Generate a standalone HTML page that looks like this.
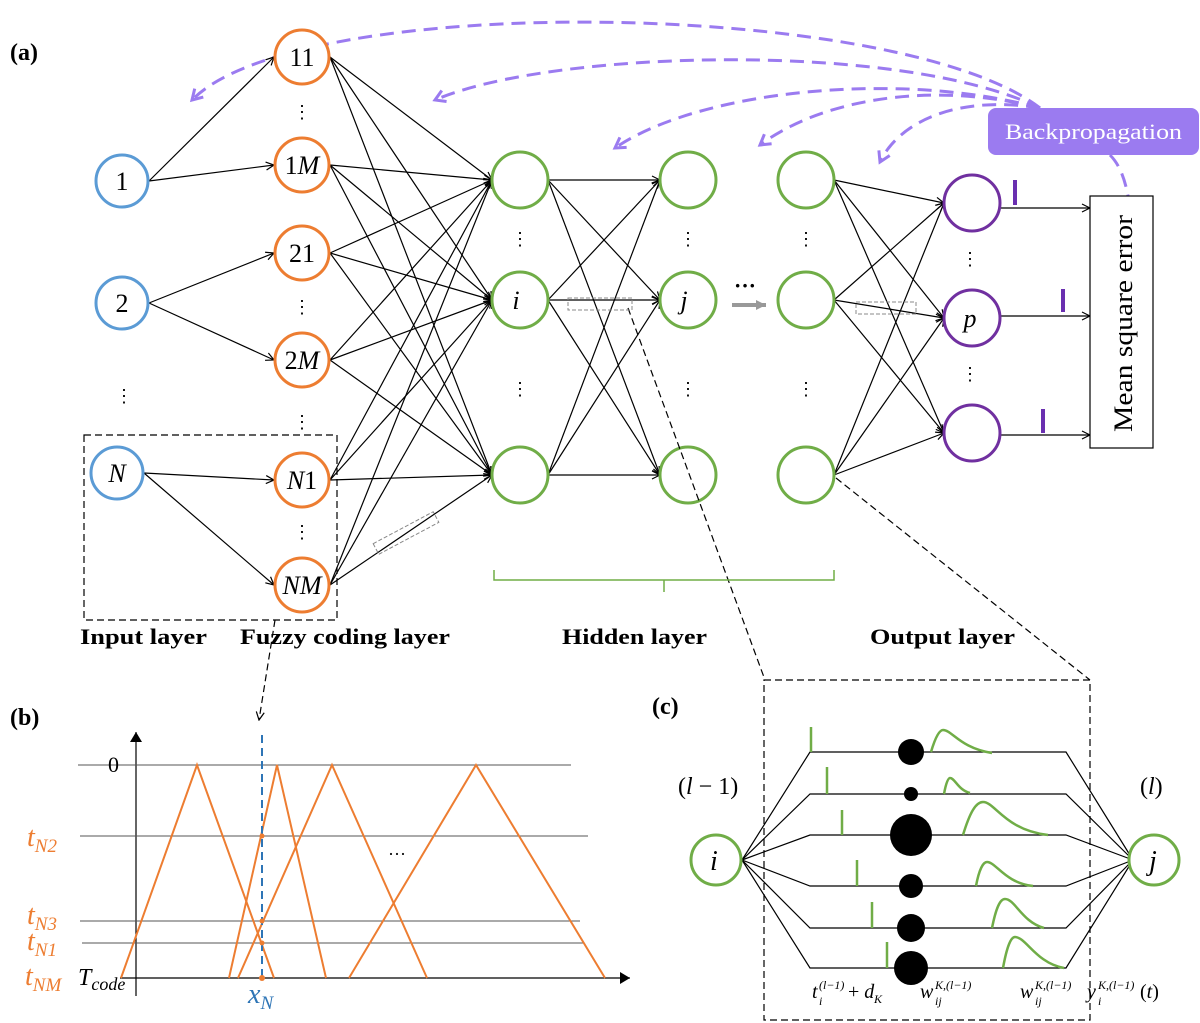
<!DOCTYPE html>
<html><head><meta charset="utf-8"><style>
html,body{margin:0;padding:0;background:#fff;}
svg{display:block;font-family:"Liberation Serif",serif;}
</style></head><body>
<svg width="1200" height="1023" viewBox="0 0 1200 1023" xmlns="http://www.w3.org/2000/svg">
<defs>
<marker id="a" markerWidth="10" markerHeight="10" refX="9" refY="5" orient="auto" markerUnits="userSpaceOnUse"><path d="M1,1 L9,5 L1,9" fill="none" stroke="#000" stroke-width="1.2"/></marker>
<marker id="p" markerWidth="16" markerHeight="16" refX="12" refY="8" orient="auto" markerUnits="userSpaceOnUse"><path d="M2,2 L12,8 L2,14" fill="none" stroke="#9b7bf0" stroke-width="3"/></marker>
<marker id="f" markerWidth="12" markerHeight="12" refX="10" refY="6" orient="auto" markerUnits="userSpaceOnUse"><path d="M0,0 L10,6 L0,12 Z" fill="#000"/></marker>
<marker id="g" markerWidth="12" markerHeight="12" refX="10" refY="6" orient="auto" markerUnits="userSpaceOnUse"><path d="M0,1 L10,6 L0,11 Z" fill="#999"/></marker>
</defs>

<g fill="none" stroke="#9b7bf0" stroke-width="3" stroke-dasharray="14,8">
<path d="M1040,108 C900,0 300,-10 192,100" marker-end="url(#p)"/>
<path d="M1040,108 C900,40 550,50 435,100" marker-end="url(#p)"/>
<path d="M1040,108 C900,70 700,90 615,148" marker-end="url(#p)"/>
<path d="M1040,108 C930,80 820,100 760,145" marker-end="url(#p)"/>
<path d="M1040,108 C960,95 900,120 880,162" marker-end="url(#p)"/>
<path d="M1110,155 C1120,165 1125,180 1128,196"/>
</g>
<rect x="988" y="108" width="211" height="47" rx="8" fill="#9b7bf0"/>
<text x="1005" y="139" font-size="22" fill="#fff" textLength="177" lengthAdjust="spacingAndGlyphs">Backpropagation</text>

<text x="10" y="60" font-size="24" font-weight="bold">(a)</text>

<g stroke="#000" stroke-width="1.2" marker-end="url(#a)">
<line x1="149" y1="181" x2="274" y2="57"/><line x1="149" y1="181" x2="274" y2="165"/>
<line x1="149" y1="303" x2="274" y2="253"/><line x1="149" y1="303" x2="274" y2="360"/>
<line x1="144" y1="473" x2="274" y2="480"/><line x1="144" y1="473" x2="274" y2="585"/>
<line x1="330" y1="57" x2="492" y2="180"/><line x1="330" y1="57" x2="492" y2="300"/><line x1="330" y1="57" x2="492" y2="475"/>
<line x1="330" y1="165" x2="492" y2="180"/><line x1="330" y1="165" x2="492" y2="300"/><line x1="330" y1="165" x2="492" y2="475"/>
<line x1="330" y1="253" x2="492" y2="180"/><line x1="330" y1="253" x2="492" y2="300"/><line x1="330" y1="253" x2="492" y2="475"/>
<line x1="330" y1="360" x2="492" y2="180"/><line x1="330" y1="360" x2="492" y2="300"/><line x1="330" y1="360" x2="492" y2="475"/>
<line x1="330" y1="480" x2="492" y2="180"/><line x1="330" y1="480" x2="492" y2="300"/><line x1="330" y1="480" x2="492" y2="475"/>
<line x1="330" y1="585" x2="492" y2="180"/><line x1="330" y1="585" x2="492" y2="300"/><line x1="330" y1="585" x2="492" y2="475"/>
<line x1="548" y1="180" x2="660" y2="180"/><line x1="548" y1="180" x2="660" y2="300"/><line x1="548" y1="180" x2="660" y2="475"/>
<line x1="548" y1="300" x2="660" y2="180"/><line x1="548" y1="300" x2="660" y2="300"/><line x1="548" y1="300" x2="660" y2="475"/>
<line x1="548" y1="475" x2="660" y2="180"/><line x1="548" y1="475" x2="660" y2="300"/><line x1="548" y1="475" x2="660" y2="475"/>
<line x1="834" y1="180" x2="944" y2="203"/><line x1="834" y1="180" x2="944" y2="318"/><line x1="834" y1="180" x2="944" y2="433"/>
<line x1="834" y1="300" x2="944" y2="203"/><line x1="834" y1="300" x2="944" y2="318"/><line x1="834" y1="300" x2="944" y2="433"/>
<line x1="834" y1="475" x2="944" y2="203"/><line x1="834" y1="475" x2="944" y2="318"/><line x1="834" y1="475" x2="944" y2="433"/>
<line x1="1000" y1="208" x2="1090" y2="208"/><line x1="1000" y1="316" x2="1090" y2="316"/><line x1="1000" y1="435" x2="1090" y2="435"/>
</g>
<line x1="732" y1="305" x2="766" y2="305" stroke="#999" stroke-width="4" marker-end="url(#g)"/>
<text x="745" y="293" font-size="22" font-weight="bold" text-anchor="middle">···</text>

<g stroke="#6a2fb0" stroke-width="4"><line x1="1015" y1="180" x2="1015" y2="205"/><line x1="1063" y1="289" x2="1063" y2="312"/><line x1="1043" y1="409" x2="1043" y2="433"/></g>

<g fill="#fff" stroke-width="3">
<g stroke="#5b9bd5"><circle cx="122" cy="181" r="26"/><circle cx="122" cy="303" r="26"/><circle cx="117" cy="473" r="26"/></g>
<g stroke="#ed7d31"><circle cx="302" cy="57" r="27"/><circle cx="302" cy="165" r="27"/><circle cx="302" cy="253" r="27"/><circle cx="302" cy="360" r="27"/><circle cx="302" cy="480" r="27"/><circle cx="302" cy="585" r="27"/></g>
<g stroke="#70ad47"><circle cx="520" cy="180" r="28"/><circle cx="520" cy="300" r="28"/><circle cx="520" cy="475" r="28"/>
<circle cx="688" cy="180" r="28"/><circle cx="688" cy="300" r="28"/><circle cx="688" cy="475" r="28"/>
<circle cx="806" cy="180" r="28"/><circle cx="806" cy="300" r="28"/><circle cx="806" cy="475" r="28"/></g>
<g stroke="#7030a0"><circle cx="972" cy="203" r="28"/><circle cx="972" cy="318" r="28"/><circle cx="972" cy="433" r="28"/></g>
</g>
<g font-size="26" text-anchor="middle">
<text x="122" y="190">1</text><text x="122" y="312">2</text><text x="117" y="482" font-style="italic">N</text>
<text x="302" y="66">11</text><text x="302" y="174">1<tspan font-style="italic">M</tspan></text>
<text x="302" y="262">21</text><text x="302" y="369">2<tspan font-style="italic">M</tspan></text>
<text x="302" y="489"><tspan font-style="italic">N</tspan>1</text><text x="302" y="594" font-style="italic">NM</text>
<text x="516" y="309" font-style="italic">i</text><text x="684" y="309" font-style="italic">j</text><text x="970" y="327" font-style="italic">p</text>
</g>
<g font-size="18" text-anchor="middle">
<text x="302" y="118">⋮</text><text x="302" y="313">⋮</text><text x="302" y="428">⋮</text><text x="302" y="538">⋮</text>
<text x="124" y="402">⋮</text>
<text x="520" y="245">⋮</text><text x="520" y="395">⋮</text><text x="688" y="245">⋮</text><text x="688" y="395">⋮</text>
<text x="806" y="245">⋮</text><text x="806" y="395">⋮</text><text x="970" y="265">⋮</text><text x="970" y="380">⋮</text>
</g>
<rect x="1090" y="196" width="63" height="252" fill="#fff" stroke="#000" stroke-width="1.2"/>
<text transform="translate(1132,432) rotate(-90)" font-size="26" textLength="217" lengthAdjust="spacingAndGlyphs">Mean square error</text>

<g fill="none" stroke="#000" stroke-width="1.2" stroke-dasharray="7,4">
<rect x="84" y="435" width="253" height="185"/>
<path d="M275,620 L259,720" marker-end="url(#a)"/>
<line x1="628" y1="308" x2="765" y2="680"/>
<line x1="836" y1="478" x2="1090" y2="680"/>
<rect x="764" y="680" width="326" height="340"/>
</g>
<g fill="none" stroke="#888" stroke-width="1" stroke-dasharray="4,2">
<rect x="568" y="298" width="64" height="12"/>
<rect x="856" y="302" width="60" height="12"/>
<rect x="372" y="527" width="68" height="12" transform="rotate(-28 406 533)"/>
</g>
<path d="M494,570 V580 H834 V570 M664,580 V592" fill="none" stroke="#70ad47" stroke-width="1.5"/>
<g font-size="22" font-weight="bold">
<text x="80" y="644" textLength="127" lengthAdjust="spacingAndGlyphs">Input layer</text>
<text x="240" y="644" textLength="210" lengthAdjust="spacingAndGlyphs">Fuzzy coding layer</text>
<text x="562" y="644" textLength="145" lengthAdjust="spacingAndGlyphs">Hidden layer</text>
<text x="870" y="644" textLength="145" lengthAdjust="spacingAndGlyphs">Output layer</text>
</g>

<text x="10" y="725" font-size="24" font-weight="bold">(b)</text>
<g stroke="#000" stroke-width="1.2">
<line x1="136" y1="996" x2="136" y2="732" marker-end="url(#f)"/>
<line x1="120" y1="978" x2="630" y2="978" marker-end="url(#f)"/>
</g>
<g stroke="#555" stroke-width="1"><line x1="78" y1="765" x2="571" y2="765"/><line x1="80" y1="836" x2="588" y2="836"/><line x1="80" y1="921" x2="580" y2="921"/><line x1="82" y1="943" x2="584" y2="943"/></g>
<g fill="none" stroke="#ed7d31" stroke-width="2">
<path d="M121,978 L197,765 L274,978"/><path d="M229,978 L277,765 L326,978"/><path d="M238,978 L332,765 L427,978"/><path d="M349,978 L476,765 L605,978"/>
</g>
<line x1="262" y1="735" x2="262" y2="978" stroke="#2e75b6" stroke-width="2" stroke-dasharray="8,5"/>
<g fill="#ed7d31"><circle cx="262" cy="836" r="2.5"/><circle cx="262" cy="921" r="2.5"/><circle cx="262" cy="943" r="2.5"/><circle cx="262" cy="978" r="3"/></g>
<text x="108" y="772" font-size="22">0</text>
<g fill="#ed7d31" font-size="28" font-style="italic">
<text x="27" y="846">t<tspan font-size="19" dy="6">N2</tspan></text>
<text x="27" y="924">t<tspan font-size="19" dy="6">N3</tspan></text>
<text x="27" y="950">t<tspan font-size="19" dy="6">N1</tspan></text>
<text x="25" y="985">t<tspan font-size="19" dy="6">NM</tspan></text>
</g>
<text x="78" y="985" font-size="24" font-style="italic">T<tspan font-size="18" dy="5">code</tspan></text>
<text x="248" y="1003" font-size="28" font-style="italic" fill="#2e75b6">x<tspan font-size="19" dy="6">N</tspan></text>
<text x="388" y="860" font-size="18">···</text>

<text x="652" y="714" font-size="24" font-weight="bold">(c)</text>
<text x="678" y="794" font-size="24">(<tspan font-style="italic">l</tspan> − 1)</text>
<text x="1140" y="794" font-size="24">(<tspan font-style="italic">l</tspan>)</text>
<g fill="none" stroke="#000" stroke-width="1.2">
<path d="M742,860 L810,752 H1066 L1133,860"/><path d="M742,860 L810,794 H1066 L1133,860"/><path d="M742,860 L810,835 H1066 L1133,860"/>
<path d="M742,860 L810,886 H1066 L1133,860"/><path d="M742,860 L810,928 H1066 L1133,860"/><path d="M742,860 L810,968 H1066 L1133,860"/>
</g>
<g fill="#000"><circle cx="911" cy="752" r="13"/><circle cx="911" cy="794" r="7"/><circle cx="911" cy="835" r="21"/><circle cx="911" cy="886" r="12"/><circle cx="911" cy="928" r="14"/><circle cx="911" cy="968" r="17"/></g>
<g stroke="#70ad47" stroke-width="2.5" fill="none">
<line x1="811" y1="727" x2="811" y2="752"/><line x1="827" y1="767" x2="827" y2="794"/><line x1="842" y1="810" x2="842" y2="835"/>
<line x1="857" y1="860" x2="857" y2="886"/><line x1="872" y1="902" x2="872" y2="928"/><line x1="887" y1="942" x2="887" y2="968"/>
<path d="M931,752 C936,735 940,730 943,730 C952,730 960,748 992,753"/>
<path d="M944,794 C946,783 948,778 950,778 C955,778 958,790 970,793"/>
<path d="M963,835 C970,812 976,802 983,802 C995,802 1005,830 1048,835"/>
<path d="M976,886 C979,870 983,862 987,862 C996,862 1005,883 1033,886"/>
<path d="M992,928 C996,908 1000,899 1005,899 C1015,899 1022,922 1044,928"/>
<path d="M1003,968 C1007,946 1011,937 1015,937 C1026,937 1036,963 1064,968"/>
</g>
<g fill="#fff" stroke="#70ad47" stroke-width="3"><circle cx="716" cy="860" r="25"/><circle cx="1154" cy="860" r="25"/></g>
<text x="710" y="870" font-size="28" font-style="italic">i</text>
<text x="1149" y="870" font-size="28" font-style="italic">j</text>
<g font-size="20" font-style="italic">
<text x="812" y="998">t</text><text x="819" y="989" font-size="12">(l−1)</text><text x="819" y="1005" font-size="12">i</text>
<text x="848" y="998" font-style="normal">+ <tspan font-style="italic">d</tspan></text><text x="874" y="1003" font-size="12">K</text>
<text x="920" y="998">w</text><text x="935" y="989" font-size="12">K,(l−1)</text><text x="935" y="1005" font-size="12">ij</text>
<text x="1020" y="998">w</text><text x="1035" y="989" font-size="12">K,(l−1)</text><text x="1035" y="1005" font-size="12">ij</text>
<text x="1087" y="998">y</text><text x="1098" y="989" font-size="12">K,(l−1)</text><text x="1098" y="1005" font-size="12">i</text>
<text x="1140" y="998" font-style="normal">(<tspan font-style="italic">t</tspan>)</text>
</g>
</svg>
</body></html>
